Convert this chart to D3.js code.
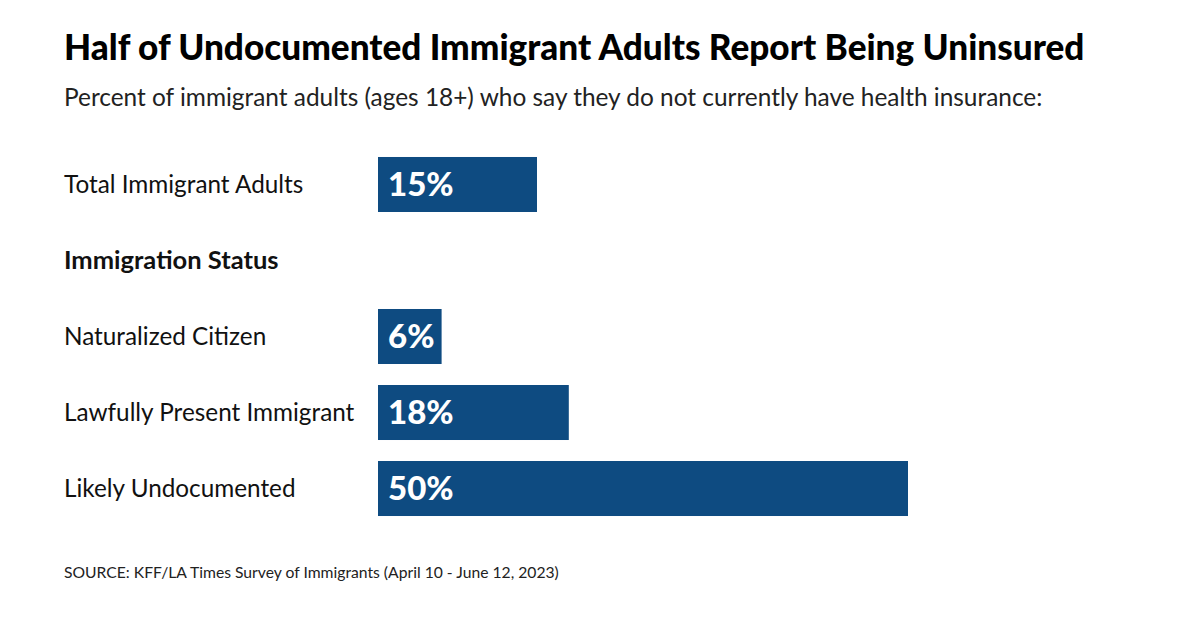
<!DOCTYPE html>
<html>
<head>
<meta charset="utf-8">
<script src="https://cdn.jsdelivr.net/npm/d3@7"></script>
<style>
  body { margin: 0; background: #fff; }
  svg { display: block; font-family: Lato, "Open Sans", sans-serif; }
</style>
</head>
<body>
<svg id="chart"></svg>
<script>
const rows = ['Total Immigrant Adults', 'Immigration Status', 'Naturalized Citizen', 'Lawfully Present Immigrant', 'Likely Undocumented'];
const headers = ['Immigration Status'];
const categories = ['Total Immigrant Adults', 'Naturalized Citizen', 'Lawfully Present Immigrant', 'Likely Undocumented'];
const values = [15, 6, 18, 50];

const width = 1200, height = 629;
const svg = d3.select('#chart').attr('width', width).attr('height', height);

// fit text to a target width by adjusting font size
function fit(sel, target) {
  let size = parseFloat(sel.attr('font-size'));
  let w = sel.node().getComputedTextLength();
  sel.attr('font-size', size * target / w);
}

let title = svg.append('text')
    .attr('x', 64).attr('y', 60)
    .attr('font-size', 31).attr('font-weight', 900)
    .attr('fill', '#000')
    .text('Half of Undocumented Immigrant Adults Report Being Uninsured');
fit(title, 1021);

let sub = svg.append('text')
    .attr('x', 64).attr('y', 106)
    .attr('font-size', 23)
    .attr('fill', '#222')
    .text('Percent of immigrant adults (ages 18+) who say they do not currently have health insurance:');
fit(sub, 979);

let x = d3.scaleLinear().domain([0, 50]).range([378, 908]);
let y = d3.scaleBand().domain(rows).range([146.5, 526.5]).paddingInner(0.2763).paddingOuter(0.138);

let data = categories.map((c, i) => ({cat: c, value: values[i]}));

svg.selectAll('.label')
  .data(rows)
  .enter().append('text')
    .attr('class', 'label')
    .attr('x', 64)
    .attr('y', (d) => y(d) + y.bandwidth() / 2)
    .attr('dy', '0.35em')
    .attr('font-size', (d) => headers.includes(d) ? 25.5 : 24.3)
    .attr('font-weight', (d) => headers.includes(d) ? 700 : 400)
    .attr('fill', '#111')
    .text((d) => d);

svg.selectAll('.bar')
  .data(data)
  .enter().append('rect')
    .attr('class', 'bar')
    .attr('x', x(0))
    .attr('y', (d) => y(d.cat))
    .attr('width', (d) => x(d.value) - x(0))
    .attr('height', y.bandwidth())
    .attr('fill', '#0e4b81');

svg.selectAll('.val')
  .data(data)
  .enter().append('text')
    .attr('class', 'val')
    .attr('x', x(0) + 10)
    .attr('y', (d) => y(d.cat) + y.bandwidth() / 2)
    .attr('dy', '0.36em')
    .attr('font-size', 33)
    .attr('font-weight', 900)
    .attr('fill', '#fff')
    .text((d) => d.value + '%');

svg.append('text')
    .attr('x', 64).attr('y', 578)
    .attr('font-size', 15.7)
    .attr('fill', '#222')
    .text('SOURCE: KFF/LA Times Survey of Immigrants (April 10 - June 12, 2023)');
</script>
</body>
</html>
